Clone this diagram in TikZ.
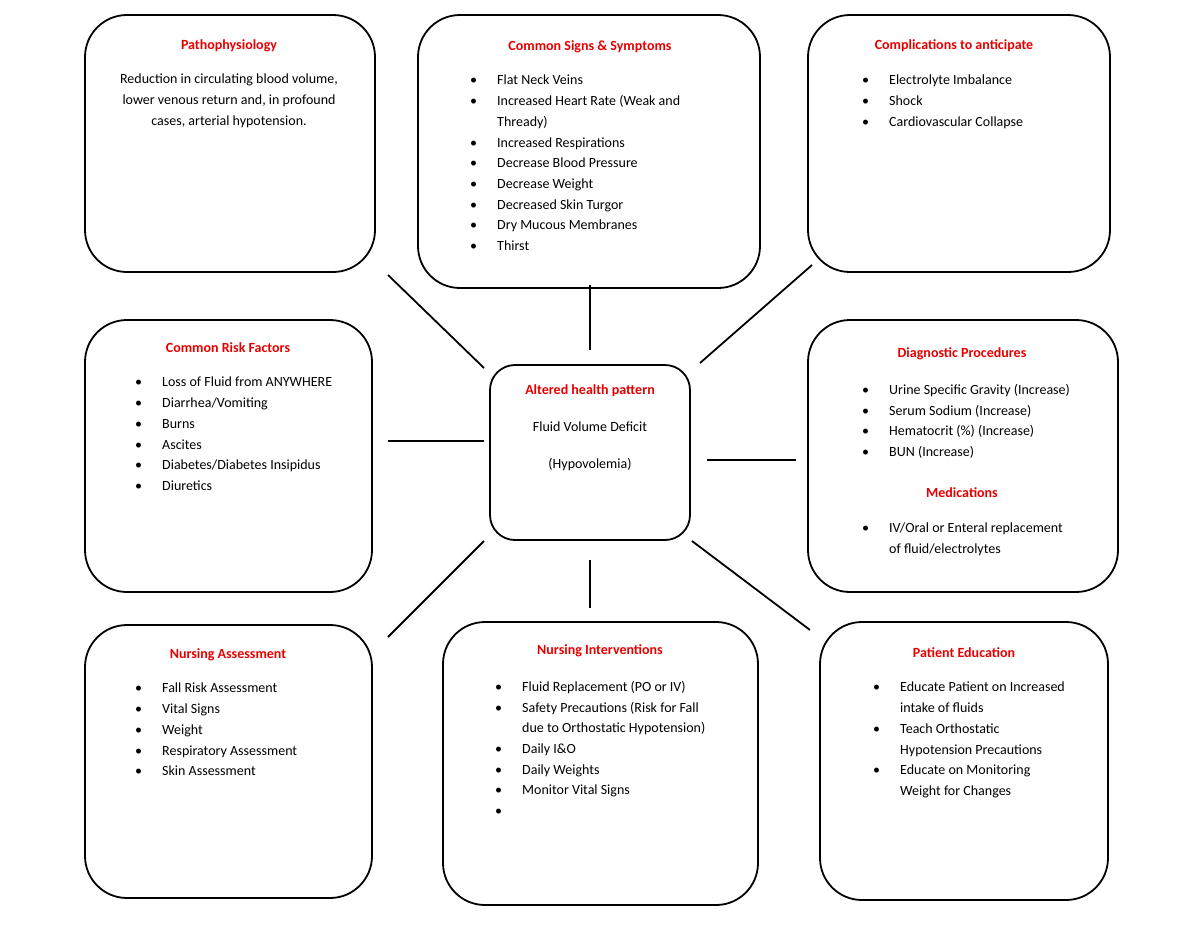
\documentclass[tikz,border=0pt]{standalone}
\usepackage{fontspec}
\setmainfont{Carlito}
\definecolor{tred}{RGB}{230,0,0}
\newcommand{\bl}{\makebox[27pt][l]{\textbullet}}
\newcommand{\ct}{\hspace*{27pt}}
\begin{document}
\begin{tikzpicture}[x=1pt,y=-1pt,
  box/.style={draw,line width=1.8pt,rounded corners=42pt},
  ttl/.style={text=tred,font=\bfseries\fontsize{14}{16}\selectfont,anchor=center},
  txt/.style={anchor=north west,align=left,font=\fontsize{14}{20.7}\selectfont,inner sep=0pt},
  lnk/.style={line width=1.8pt}]
\useasboundingbox (0,0) rectangle (1200,927);
% boxes
\draw[box] (85,15) rectangle (375,272);
\draw[box] (418,15) rectangle (760,288);
\draw[box] (808,15) rectangle (1110,272);
\draw[box] (85,320) rectangle (372,592);
\draw[box,rounded corners=25pt] (490,365) rectangle (690,540);
\draw[box] (808,320) rectangle (1118,592);
\draw[box] (85,625) rectangle (372,898);
\draw[box] (443,622) rectangle (758,905);
\draw[box] (820,622) rectangle (1108,900);
% titles
\node[ttl] (t1) at (229,46) {Pathophysiology};
\node[ttl] (t2) at (590,47) {Common Signs \& Symptoms};
\node[ttl] (t3) at (954,46) {Complications to anticipate};
\node[ttl] (t4) at (228,348) {Common Risk Factors};
\node[ttl] (t5) at (590,391) {Altered health pattern};
\node[ttl] (t6) at (962,354) {Diagnostic Procedures};
\node[ttl] (t6b) at (962,493) {Medications};
\node[ttl] (t7) at (228,655) {Nursing Assessment};
\node[ttl] (t8) at (600,651) {Nursing Interventions};
\node[ttl] (t9) at (964,653) {Patient Education};
% texts
\node[font=\fontsize{14}{20.7}\selectfont,align=center,anchor=north,inner sep=0pt] (p1) at (229,74)
 {Reduction in circulating blood volume,\\lower venous return and, in profound\\cases, arterial hypotension.};
\node[txt] (p2) at (470,75) {\bl Flat Neck Veins\\\bl Increased Heart Rate (Weak and\\\ct Thready)\\\bl Increased Respirations\\\bl Decrease Blood Pressure\\\bl Decrease Weight\\\bl Decreased Skin Turgor\\\bl Dry Mucous Membranes\\\bl Thirst};
\node[txt] (p3) at (862,75) {\bl Electrolyte Imbalance\\\bl Shock\\\bl Cardiovascular Collapse};
\node[txt] (p4) at (135,377) {\bl Loss of Fluid from ANYWHERE\\\bl Diarrhea/Vomiting\\\bl Burns\\\bl Ascites\\\bl Diabetes/Diabetes Insipidus\\\bl Diuretics};
\node[font=\fontsize{14}{16}\selectfont] (p5a) at (590,427) {Fluid Volume Deficit};
\node[font=\fontsize{14}{16}\selectfont] (p5b) at (590,465) {(Hypovolemia)};
\node[txt] (p6) at (862,384) {\bl Urine Specific Gravity (Increase)\\\bl Serum Sodium (Increase)\\\bl Hematocrit (\%) (Increase)\\\bl BUN (Increase)};
\node[txt] (p6b) at (862,523) {\bl IV/Oral or Enteral replacement\\\ct of fluid/electrolytes};
\node[txt] (p7) at (135,683) {\bl Fall Risk Assessment\\\bl Vital Signs\\\bl Weight\\\bl Respiratory Assessment\\\bl Skin Assessment};
\node[txt] (p8) at (495,681) {\bl Fluid Replacement (PO or IV)\\\bl Safety Precautions (Risk for Fall\\\ct due to Orthostatic Hypotension)\\\bl Daily I\&O\\\bl Daily Weights\\\bl Monitor Vital Signs\\\bl};
\node[txt] (p9) at (873,682) {\bl Educate Patient on Increased\\\ct intake of fluids\\\bl Teach Orthostatic\\\ct Hypotension Precautions\\\bl Educate on Monitoring\\\ct Weight for Changes};
% connectors
\coordinate (a1) at (388,275); \coordinate (b1) at (484,368);
\coordinate (a2) at (590,285); \coordinate (b2) at (590,350);
\coordinate (a3) at (700,363); \coordinate (b3) at (812,265);
\coordinate (a4) at (388,441); \coordinate (b4) at (484,441);
\coordinate (a5) at (707,460); \coordinate (b5) at (796,460);
\coordinate (a6) at (484,541); \coordinate (b6) at (388,637);
\coordinate (a7) at (590,560); \coordinate (b7) at (590,608);
\coordinate (a8) at (692,541); \coordinate (b8) at (810,630);
\foreach \i in {1,...,8} \draw[lnk] (a\i) -- (b\i);
\end{tikzpicture}
\end{document}
